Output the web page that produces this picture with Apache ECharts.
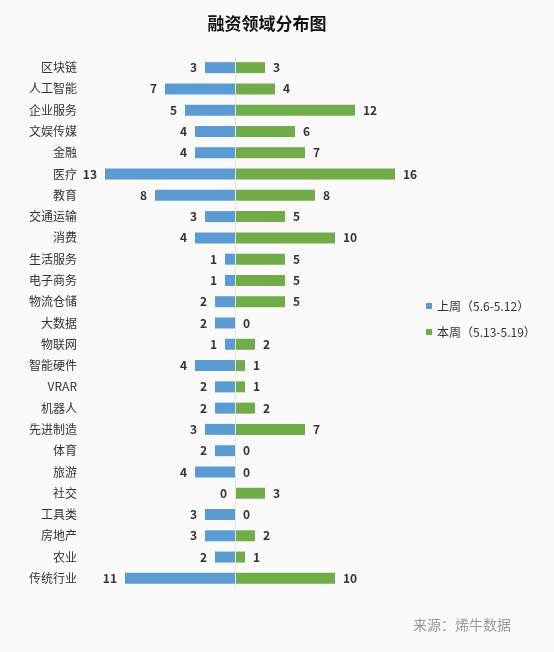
<!DOCTYPE html>
<html><head><meta charset="utf-8">
<script src="https://cdn.jsdelivr.net/npm/echarts@6/dist/echarts.min.js"></script>
<style>html,body{margin:0;padding:0;background:#fafafa}#c{width:554px;height:652px}</style>
</head><body><div id="c"></div>
<script>
const categories = ['区块链','人工智能','企业服务','文娱传媒','金融','医疗','教育','交通运输','消费','生活服务','电子商务','物流仓储','大数据','物联网','智能硬件','VRAR','机器人','先进制造','体育','旅游','社交','工具类','房地产','农业','传统行业'];
const lastWeek = [3,7,5,4,4,13,8,3,4,1,1,2,2,1,4,2,2,3,2,4,0,3,3,2,11];
const thisWeek = [3,4,12,6,7,16,8,5,10,5,5,5,0,2,1,1,2,7,0,0,3,0,2,1,10];
const seriesNames = ['上周（5.6-5.12）','本周（5.13-5.19）'];

const chart = echarts.init(document.getElementById('c'));
const lbl = {show:true, color:'#333', fontWeight:'bold', fontSize:12, fontFamily:'Noto Sans CJK SC', distance:8,
  formatter: p => Math.abs(p.value)};
chart.setOption({
  backgroundColor:'#fafafa',
  animation:false,
  title:{text:'融资领域分布图', left:262, textAlign:'center', top:10,
    textStyle:{fontSize:17, fontWeight:'bold', color:'#111', fontFamily:'Noto Sans CJK SC'}},
  legend:{orient:'vertical', left:421, top:295, itemWidth:6, itemHeight:6, itemGap:14,
    icon:'rect', textStyle:{fontSize:12, color:'#333', fontFamily:'Noto Sans CJK SC'}, data:seriesNames},
  grid:{left:85, width:310, top:57, height:532},
  xAxis:{type:'value', min:-15, max:16, show:false},
  yAxis:{type:'category', data:categories, inverse:true,
    axisLine:{show:false}, axisTick:{show:false},
    axisLabel:{color:'#333', fontSize:12, margin:8, fontFamily:'Noto Sans CJK SC'}},
  series:[
    {name:seriesNames[0], type:'bar', barGap:'-100%', barWidth:11, data:lastWeek.map(v=>-v),
      itemStyle:{color:'#5B9BD5'}, label:Object.assign({position:'left'}, lbl),
      markLine:{silent:true, symbol:'none', label:{show:false},
        lineStyle:{color:'#e8e8d8', type:'solid', width:1}, data:[{xAxis:0}]}},
    {name:seriesNames[1], type:'bar', barGap:'-100%', barWidth:11, data:thisWeek,
      itemStyle:{color:'#70AD47'}, label:Object.assign({position:'right'}, lbl)}
  ],
  graphic:[{type:'text', left:413, top:618,
    style:{text:'来源：烯牛数据', fill:'#999', fontSize:14, fontFamily:'Noto Sans CJK SC'}}]
});
</script></body></html>
